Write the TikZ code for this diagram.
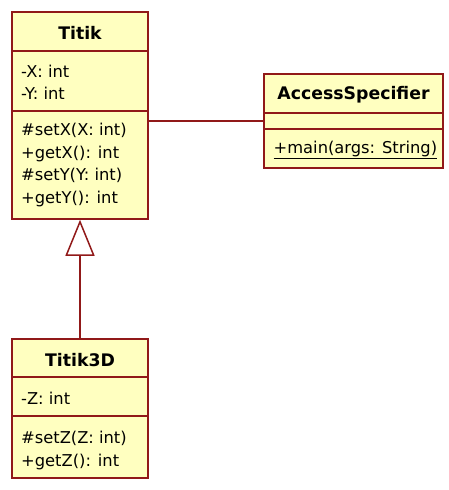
\documentclass[tikz,border=0pt]{standalone}
\usepackage{fontspec}
\setmainfont{DejaVu Sans}
\usetikzlibrary{arrows.meta}
\definecolor{umlborder}{RGB}{145,25,25}
\definecolor{umlfill}{RGB}{255,255,192}
\begin{document}
\begin{tikzpicture}[x=1pt,y=-1pt,
  classbox/.style={draw=umlborder,fill=umlfill,line width=1.5pt,rectangle,inner sep=0pt},
  member/.style={anchor=base west,inner sep=0pt,font=\fontsize{16.3}{19}\selectfont},
  cname/.style={anchor=base,inner sep=0pt,font=\fontsize{17.3}{20}\selectfont\bfseries},
  divider/.style={draw=umlborder,line width=1.5pt},
  link/.style={draw=umlborder,line width=1.5pt}]
\useasboundingbox (0,0) rectangle (449,490);
% Titik
\node[classbox,minimum width=136pt,minimum height=207pt] (titik) at (80,115.5) {};
\draw[divider] (titik.west |- 0,51) -- (titik.east |- 0,51);
\draw[divider] (titik.west |- 0,111) -- (titik.east |- 0,111);
\node[cname] (titikname) at (80,39) {Titik};
\node[member] (tx) at (21,77) {-X: int};
\node[member] (ty) at (21,99.7) {-Y: int};
\node[member] (tm1) at (21,135.3) {\#setX(X: int)};
\node[member] (tm2) at (21,158) {+getX(): int};
\node[member] (tm3) at (21,180.7) {\#setY(Y: int)};
\node[member] (tm4) at (21,203.4) {+getY(): int};
% AccessSpecifier
\node[classbox,minimum width=179pt,minimum height=94pt] (access) at (353.5,121) {};
\draw[divider] (access.west |- 0,113) -- (access.east |- 0,113);
\draw[divider] (access.west |- 0,129) -- (access.east |- 0,129);
\node[cname] (accessname) at (353.5,99.3) {AccessSpecifier};
\node[member] (am1) at (273.5,153.3) {\underline{+main(args: String)}};
% Titik3D
\node[classbox,minimum width=136pt,minimum height=139pt] (titik3d) at (80,408.5) {};
\draw[divider] (titik3d.west |- 0,377) -- (titik3d.east |- 0,377);
\draw[divider] (titik3d.west |- 0,416) -- (titik3d.east |- 0,416);
\node[cname] (titik3dname) at (80,366.7) {Titik3D};
\node[member] (dz) at (21,404) {-Z: int};
\node[member] (dm1) at (21,443.3) {\#setZ(Z: int)};
\node[member] (dm2) at (21,466) {+getZ(): int};
% connectors
\draw[link] (access.west -| titik.east) -- (access.west);
\draw[link,-{Triangle[open,length=36pt,width=29pt,line width=1.5pt,fill=white]}] (titik3d.north) -- (titik.south);
\end{tikzpicture}
\end{document}
